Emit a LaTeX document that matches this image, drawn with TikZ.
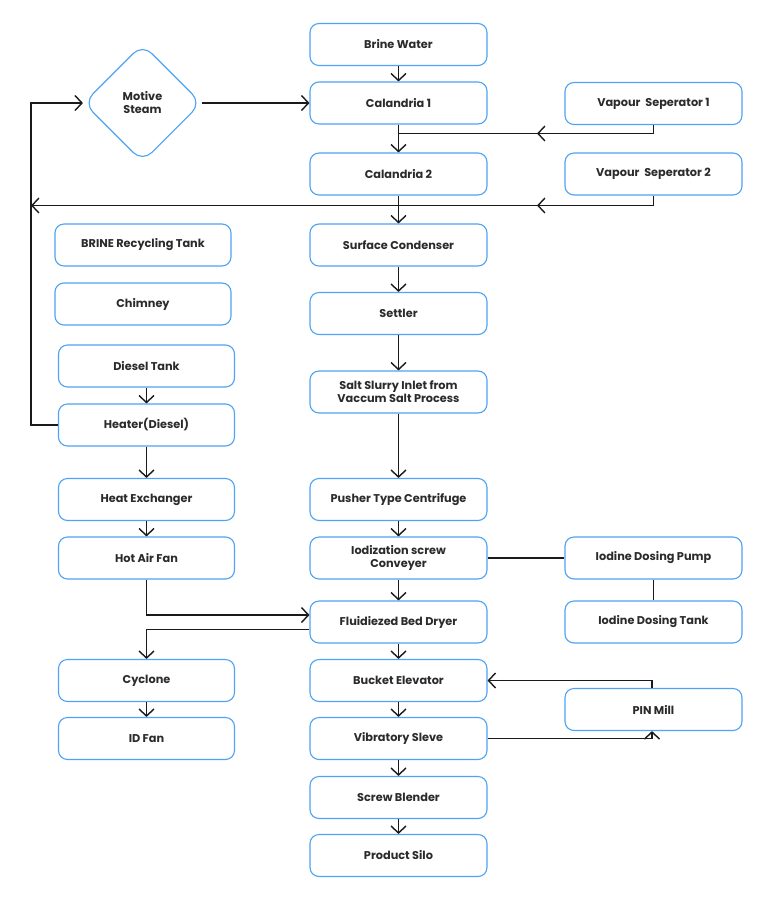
\documentclass[tikz,border=0pt]{standalone}
\usepackage{fontspec}
\setmainfont{Poppins}
\usetikzlibrary{arrows.meta,shapes.geometric}
\definecolor{boxblue}{HTML}{4DA3F5}
\definecolor{txt}{HTML}{2B2B2B}
\definecolor{ln}{HTML}{1A1A1A}
\begin{document}
\begin{tikzpicture}[x=1pt,y=-1pt,
  box/.style={draw=boxblue, line width=1.1pt, rounded corners=9pt, fill=white, text=txt,
    font=\bfseries\fontsize{11.3}{13}\selectfont, align=center, inner sep=0pt},
  cbox/.style={box, minimum width=177pt, minimum height=42pt},
  lbox/.style={box, minimum width=176pt, minimum height=42pt},
  flow/.style={line width=1.4pt, draw=ln, -{Straight Barb[length=7pt,width=15pt,line width=1.4pt]}},
  plain/.style={line width=1.4pt, draw=ln}
]
\useasboundingbox (0,0) rectangle (768,911);
\fill[white] (0,0) rectangle (768,911);

% centre column
\node[cbox] (brine) at (398.5,44.5) {Brine Water};
\node[cbox] (cal1) at (398.5,103) {Calandria 1};
\node[cbox] (cal2) at (398.5,174) {Calandria 2};
\node[cbox] (surf) at (398.5,245) {Surface Condenser};
\node[cbox] (settler) at (398.5,313.5) {Settler};
\node[cbox] (slurry) at (398.5,392) {Salt Slurry Inlet from\\Vaccum Salt Process};
\node[cbox] (pusher) at (398.5,499.5) {Pusher Type Centrifuge};
\node[cbox] (iod) at (398.5,558) {Iodization screw\\Conveyer};
\node[cbox] (fbd) at (398.5,622) {Fluidiezed Bed Dryer};
\node[cbox] (bucket) at (398.5,680.5) {Bucket Elevator};
\node[cbox] (vib) at (398.5,738.5) {Vibratory Sleve};
\node[cbox] (blender) at (398.5,797.5) {Screw Blender};
\node[cbox] (silo) at (398.5,855.5) {Product Silo};

% right column
\node[cbox] (vs1) at (653.5,103.5) {Vapour\ \ Seperator 1};
\node[cbox] (vs2) at (653.5,174) {Vapour\ \ Seperator 2};
\node[cbox] (pump) at (653.5,558) {Iodine Dosing Pump};
\node[cbox] (tank) at (653.5,622) {Iodine Dosing Tank};
\node[cbox] (pin) at (653.5,709.5) {PIN Mill};

% left column
\node[lbox] (recyc) at (143,245) {BRINE Recycling Tank};
\node[lbox] (chim) at (143,304) {Chimney};
\node[lbox] (diesel) at (146.5,366) {Diesel Tank};
\node[lbox] (heater) at (146.5,425) {Heater(Diesel)};
\node[lbox] (hx) at (146.5,499.5) {Heat Exchanger};
\node[lbox] (hotair) at (146.5,558) {Hot Air Fan};
\node[lbox] (cyc) at (146.5,680.5) {Cyclone};
\node[lbox] (idfan) at (146.5,738.5) {ID Fan};

% diamond
\node[draw=boxblue, line width=1.1pt, diamond, aspect=1, minimum width=118pt, minimum height=118pt,
  inner sep=0pt, rounded corners=13pt, fill=white, text=txt,
  font=\bfseries\fontsize{11.3}{13}\selectfont, align=center] (steam) at (142.5,103) {Motive\\Steam};

% helper coordinates
\coordinate (lx) at (31,205.5);
\coordinate (m1) at (537,133.5);
\coordinate (m2) at (537,205.5);

% centre flow
\draw[flow] (brine) -- (cal1);
\draw[flow] (cal1) -- (cal2);
\draw[flow] (cal2) -- (surf);
\draw[flow] (surf) -- (settler);
\draw[flow] (settler) -- (slurry);
\draw[flow] (slurry) -- (pusher);
\draw[flow] (pusher) -- (iod);
\draw[flow] (iod) -- (fbd);
\draw[flow] (fbd) -- (bucket);
\draw[flow] (bucket) -- (vib);
\draw[flow] (vib) -- (blender);
\draw[flow] (blender) -- (silo);

% steam
\draw[flow] (steam.east) -- (cal1.west |- steam.east);
\draw[flow] (heater.west) -| (lx) |- (steam.west);

% vapour separators
\draw[flow] (vs1.south) |- (m1);
\draw[plain] (m1) -- (cal1.south |- m1);
\draw[flow] (vs2.south) |- (m2);
\draw[flow] (m2) -- (lx);

% iodine
\draw[plain] (iod.east) -- (pump.west |- iod.east);
\draw[plain] (pump) -- (tank);

% left chain
\draw[flow] (diesel) -- (heater);
\draw[flow] (heater) -- (hx);
\draw[flow] (hx) -- (hotair);
\draw[flow] (hotair.south) |- ([yshift=7pt]fbd.west);
\draw[flow] ([yshift=-7.5pt]fbd.west) -| (cyc.north);
\draw[flow] (cyc) -- (idfan);

% pin mill
\draw[flow] ([xshift=-1.5pt]pin.north) |- (bucket.east);
\draw[flow] (vib.east) -| ([xshift=-1.5pt]pin.south);
\end{tikzpicture}
\end{document}
